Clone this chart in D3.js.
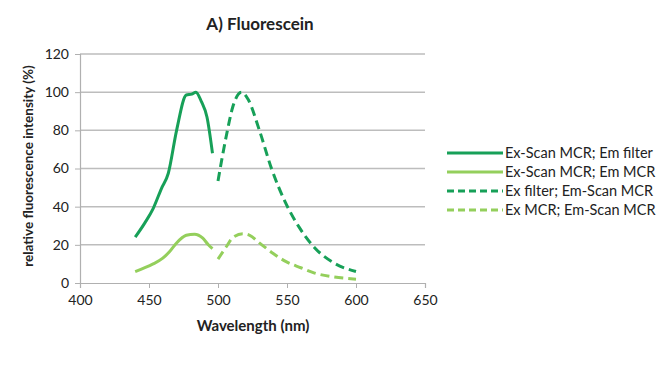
<!DOCTYPE html>
<html>
<head>
<meta charset="utf-8">
<script src="https://cdn.jsdelivr.net/npm/d3@7"></script>
<style>
  body { margin: 0; background: #fff; }
  svg text { font-family: Lato, "Open Sans", sans-serif; fill: #222; }
</style>
</head>
<body>
<div id="chart"></div>
<script>
// series data (wavelength nm, relative intensity %)
var exScanEmFilterX = [440, 447, 453, 459, 464, 470, 477, 481, 484, 488, 492, 496];
var exScanEmFilterY = [24, 31.5, 39, 49.5, 57.5, 80, 98.5, 99, 100, 95, 87, 68];
var exScanEmMcrX = [440, 447, 453, 460, 465, 470, 477, 483, 489, 493, 496];
var exScanEmMcrY = [6, 8, 10, 13, 16.5, 21, 25, 25.6, 23.5, 20, 18];
var exFilterEmScanX = [500, 506, 511, 517, 522, 530, 539, 549, 559, 570, 584, 600];
var exFilterEmScanY = [53.5, 77, 93, 100, 96, 80, 59.5, 42, 29, 18.5, 10.5, 6];
var exMcrEmScanX = [500, 506, 511, 518, 523, 530, 540, 549, 560, 570, 584, 600];
var exMcrEmScanY = [12.5, 19, 24, 25.8, 25, 21, 15.5, 11.3, 8, 5.2, 3.2, 2];

var seriesNames = ["Ex-Scan MCR; Em filter", "Ex-Scan MCR; Em MCR", "Ex filter; Em-Scan MCR", "Ex MCR; Em-Scan MCR"];
var xTicks = [400, 450, 500, 550, 600, 650];
var yTicks = [0, 20, 40, 60, 80, 100, 120];

var dark = "#17a058", light = "#94cf5c";
var series = [
  { name: seriesNames[0], x: exScanEmFilterX, y: exScanEmFilterY, color: dark, dash: null },
  { name: seriesNames[1], x: exScanEmMcrX, y: exScanEmMcrY, color: light, dash: null },
  { name: seriesNames[2], x: exFilterEmScanX, y: exFilterEmScanY, color: dark, dash: "9,5" },
  { name: seriesNames[3], x: exMcrEmScanX, y: exMcrEmScanY, color: light, dash: "9,5" }
];

var width = 667, height = 382;
var svg = d3.select("#chart").append("svg")
    .attr("width", width)
    .attr("height", height);

var x = d3.scaleLinear().domain([400, 650]).range([80, 425]);
var y = d3.scaleLinear().domain([0, 120]).range([283, 54]);

// gridlines
svg.append("g").selectAll("line")
    .data(yTicks.slice(1))
    .enter().append("line")
    .attr("x1", x(400)).attr("x2", x(650))
    .attr("y1", function(d) { return y(d); })
    .attr("y2", function(d) { return y(d); })
    .attr("stroke", "#bdbdbd")
    .attr("stroke-width", 1.5);

var xAxis = svg.append("g")
    .attr("transform", "translate(0," + y(0) + ")")
    .call(d3.axisBottom(x).tickValues(xTicks).tickSize(5).tickPadding(7));
var yAxis = svg.append("g")
    .attr("transform", "translate(" + x(400) + ",0)")
    .call(d3.axisLeft(y).tickValues(yTicks).tickSize(5).tickPadding(6));

[xAxis, yAxis].forEach(function(a) {
    a.select(".domain").attr("stroke", "#b0b0b0").attr("stroke-width", 1.2);
    a.selectAll(".tick line").attr("stroke", "#b0b0b0");
    a.selectAll(".tick text").style("font-size", "14px").attr("fill", "#333");
});

var line = d3.line()
    .x(function(d) { return x(d[0]); })
    .y(function(d) { return y(d[1]); })
    .curve(d3.curveMonotoneX);

series.forEach(function(s) {
    var pts = s.x.map(function(v, i) { return [v, s.y[i]]; });
    svg.append("path")
        .datum(pts)
        .attr("d", line)
        .attr("fill", "none")
        .attr("stroke", s.color)
        .attr("stroke-width", 3)
        .attr("stroke-dasharray", s.dash);
});

// title and axis labels
svg.append("text")
    .attr("x", 260).attr("y", 30)
    .attr("text-anchor", "middle")
    .style("font-size", "17px").style("font-weight", "bold")
    .text("A) Fluorescein");

svg.append("text")
    .attr("x", 253).attr("y", 331)
    .attr("text-anchor", "middle")
    .style("font-size", "15px").style("font-weight", "bold")
    .text("Wavelength (nm)");

svg.append("text")
    .attr("transform", "translate(33,166) rotate(-90)")
    .attr("text-anchor", "middle")
    .style("font-size", "13.5px").style("font-weight", "bold")
    .text("relative fluorescence intensity (%)");

// legend
var legend = svg.append("g").selectAll("g")
    .data(series)
    .enter().append("g")
    .attr("transform", function(d, i) { return "translate(447," + (153 + i * 19) + ")"; });

legend.append("line")
    .attr("x1", 0).attr("x2", 56)
    .attr("stroke", function(d) { return d.color; })
    .attr("stroke-width", 3)
    .attr("stroke-dasharray", function(d) { return d.dash ? "7,4" : null; });

legend.append("text")
    .attr("x", 58).attr("dy", "0.35em")
    .style("font-size", "14.5px")
    .text(function(d) { return d.name; });
</script>
</body>
</html>
